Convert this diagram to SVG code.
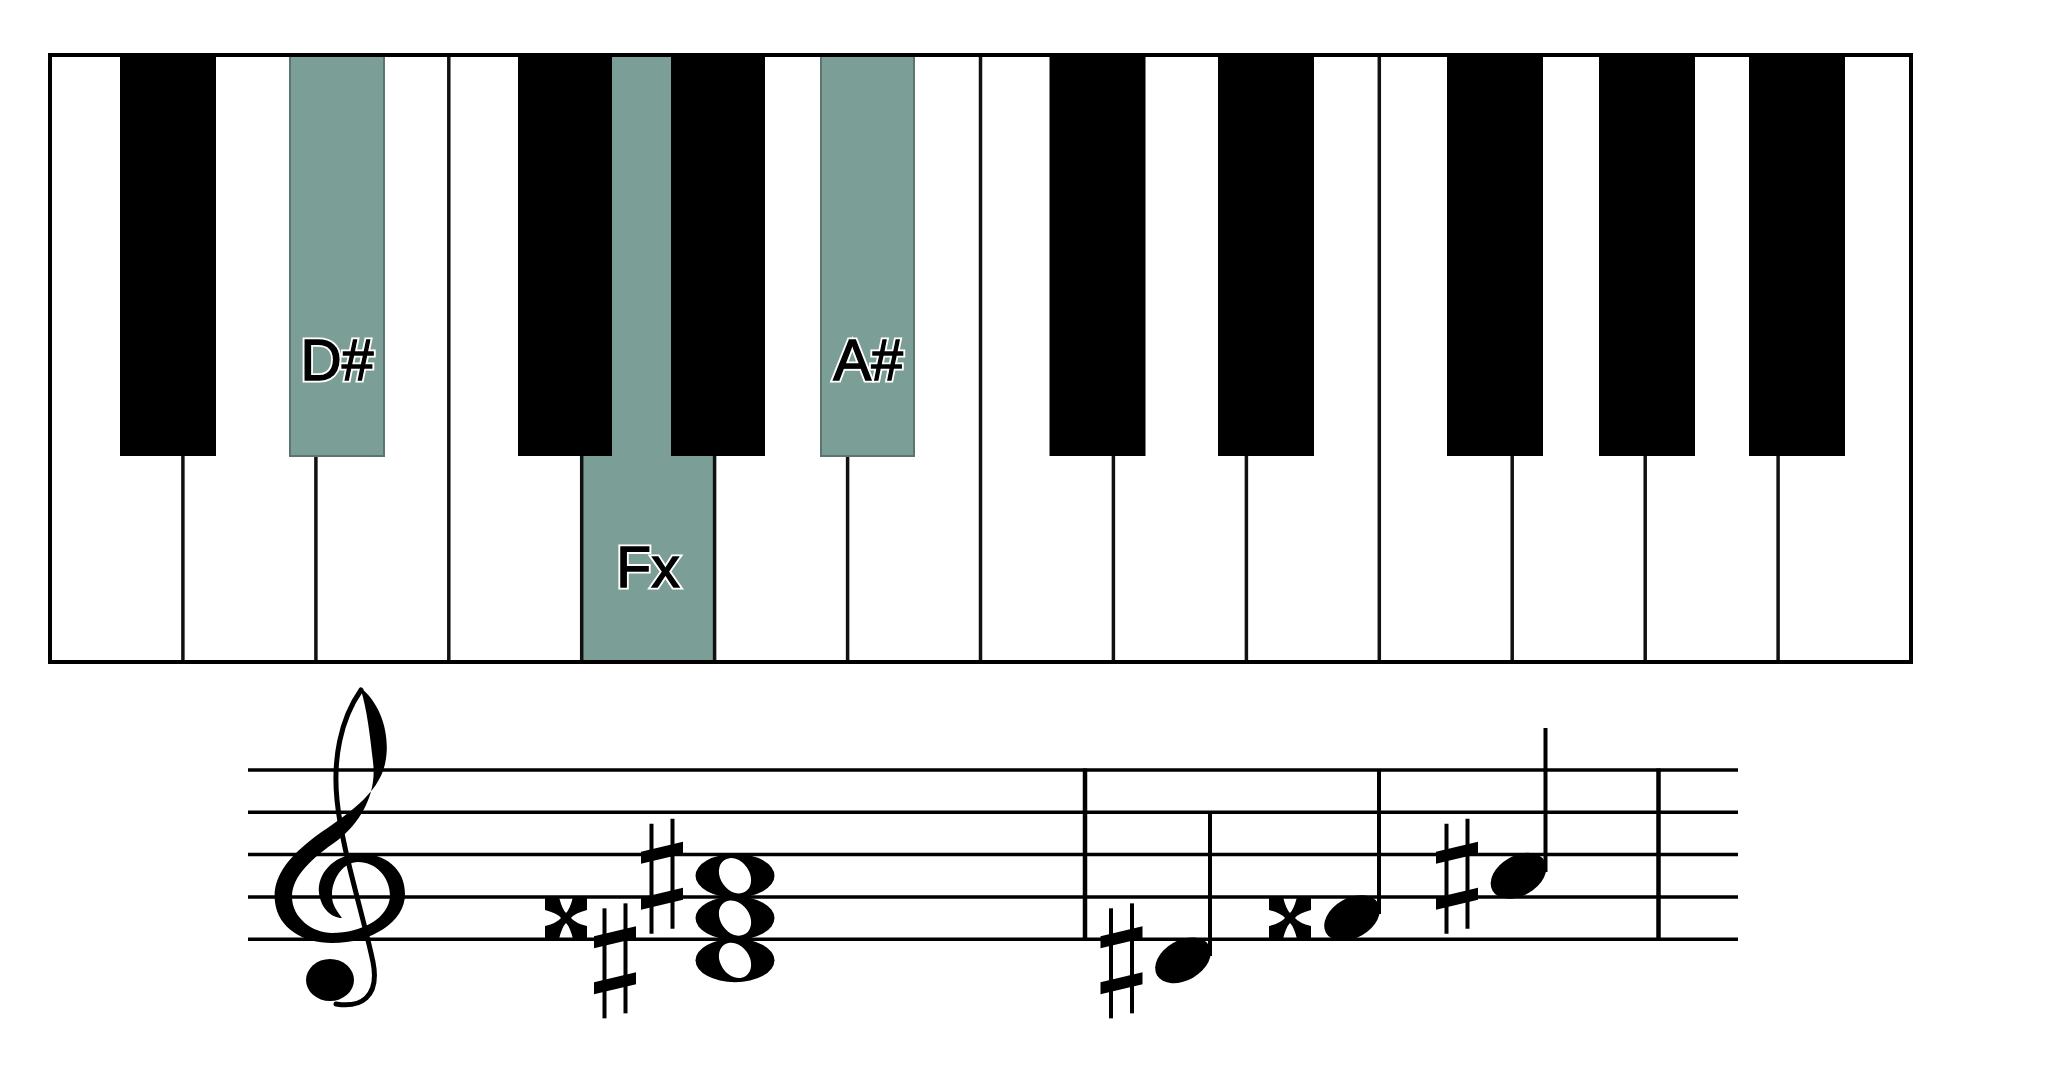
<svg xmlns="http://www.w3.org/2000/svg" width="2048" height="1079" viewBox="0 0 2048 1079">
<style>
.wk{fill:#ffffff;stroke:#000;stroke-width:4}
.div{stroke:#111;stroke-width:3.5}
.bk{fill:#000}
.tk{fill:#7b9e96;stroke:#5b756f;stroke-width:2}
.lbl{font-family:"Liberation Sans",Arial,sans-serif;font-size:57px;fill:#000;stroke:#fff;stroke-width:5;paint-order:stroke;text-anchor:middle}
.lbl2{font-family:"Liberation Sans",Arial,sans-serif;font-size:57px;fill:#000;stroke:#000;stroke-width:1.3;text-anchor:middle}
.staff{stroke:#000;stroke-width:3.5}
.bar{stroke:#000;stroke-width:4.5}
.stem{stroke:#000;stroke-width:4}
</style>
<defs>
<g id="sharp">
<rect x="-12.5" y="-52" width="4" height="110" fill="#000"/>
<rect x="8.5" y="-57" width="4" height="110" fill="#000"/>
<polygon points="-21,-12 21,-22 21,-34 -21,-24" fill="#000"/>
<polygon points="-21,34 21,24 21,12 -21,22" fill="#000"/>
</g>
<path id="dsharp" d="M -21 -21 L -7 -21 Q -4 -9 0 -5 Q 4 -9 7 -21 L 21 -21 L 21 -8 Q 9 -5 5 0 Q 9 5 21 8 L 21 21 L 7 21 Q 4 9 0 5 Q -4 9 -7 21 L -21 21 L -21 8 Q -9 5 -5 0 Q -9 -5 -21 -8 Z" fill="#000"/>
<ellipse id="qhead" cx="0" cy="0" rx="30" ry="20" transform="rotate(-30)" fill="#000"/>
<g id="whead">
<ellipse cx="0" cy="0" rx="39.5" ry="21.8" fill="#000"/>
<ellipse cx="0" cy="0" rx="14.5" ry="19" transform="rotate(-35)" fill="#fff"/>
</g>
</defs>

<g id="keyboard">
<rect class="wk" x="50" y="55" width="1861" height="607"/>
<rect id="key-Fx" x="581.7" y="57" width="132.9" height="603" fill="#7b9e96"/>
<g id="white-dividers">
<line class="div" x1="182.9" y1="57" x2="182.9" y2="660"/>
<line class="div" x1="315.9" y1="57" x2="315.9" y2="660"/>
<line class="div" x1="448.8" y1="57" x2="448.8" y2="660"/>
<line class="div" x1="581.7" y1="57" x2="581.7" y2="660"/>
<line class="div" x1="714.6" y1="57" x2="714.6" y2="660"/>
<line class="div" x1="847.6" y1="57" x2="847.6" y2="660"/>
<line class="div" x1="980.5" y1="57" x2="980.5" y2="660"/>
<line class="div" x1="1113.4" y1="57" x2="1113.4" y2="660"/>
<line class="div" x1="1246.4" y1="57" x2="1246.4" y2="660"/>
<line class="div" x1="1379.3" y1="57" x2="1379.3" y2="660"/>
<line class="div" x1="1512.2" y1="57" x2="1512.2" y2="660"/>
<line class="div" x1="1645.2" y1="57" x2="1645.2" y2="660"/>
<line class="div" x1="1778.1" y1="57" x2="1778.1" y2="660"/>
</g>
<g id="black-keys">
<rect class="bk" x="120" y="55" width="96" height="401"/>
<rect id="key-Ds" class="tk" x="290" y="55" width="94" height="401"/>
<rect class="bk" x="518" y="55" width="94" height="401"/>
<rect class="bk" x="671" y="55" width="94" height="401"/>
<rect id="key-As" class="tk" x="821" y="55" width="93" height="401"/>
<rect class="bk" x="1049.5" y="55" width="96" height="401"/>
<rect class="bk" x="1218" y="55" width="96" height="401"/>
<rect class="bk" x="1447" y="55" width="96" height="401"/>
<rect class="bk" x="1599" y="55" width="96" height="401"/>
<rect class="bk" x="1749" y="55" width="96" height="401"/>
</g>
<rect x="50" y="55" width="1861" height="607" fill="none" stroke="#000" stroke-width="4"/>
<g id="labels">
<text class="lbl" x="337" y="380">D#</text>
<text class="lbl" x="868" y="380">A#</text>
<text class="lbl" x="648" y="587">Fx</text>
<text class="lbl2" x="337" y="380">D#</text>
<text class="lbl2" x="868" y="380">A#</text>
<text class="lbl2" x="648" y="587">Fx</text>
</g>
</g>

<g id="staff">
<line class="staff" x1="248" y1="770" x2="1738" y2="770"/>
<line class="staff" x1="248" y1="812.3" x2="1738" y2="812.3"/>
<line class="staff" x1="248" y1="854.6" x2="1738" y2="854.6"/>
<line class="staff" x1="248" y1="896.9" x2="1738" y2="896.9"/>
<line class="staff" x1="248" y1="939.2" x2="1738" y2="939.2"/>
<line class="bar" x1="1085" y1="768.5" x2="1085" y2="940.7"/>
<line class="bar" x1="1658.5" y1="768.5" x2="1658.5" y2="940.7"/>
</g>

<g id="treble-clef">
<path d="M 361 690 C 340 720, 333 760, 337 800 C 342 850, 362 910, 373 962 C 380 998, 360 1008, 336 1004" fill="none" stroke="#000" stroke-width="5" stroke-linecap="round"/>
<path d="M 361 688 C 382 705, 391 737, 385 764 C 378 795, 346 815, 316 836 C 287 858, 272 878, 275 902 C 278 928, 303 943, 332 943 L 332 933 C 313 933, 292 918, 292 897 C 292 876, 312 858, 338 840 C 362 821, 377 792, 373 762 C 370 735, 367 710, 361 690 Z" fill="#000"/>
<path d="M 332 943 C 372 943, 405 922, 405 894 C 405 866, 381 852, 356 854 C 333 856, 317 874, 319 893 C 321 909, 332 918, 342 918 C 338 912, 331 905, 332 893 C 333 877, 344 862, 358 862 C 376 862, 390 877, 390 896 C 389 918, 362 933, 332 933 Z" fill="#000"/>
<ellipse cx="330" cy="980" rx="24" ry="21" fill="#000"/>
</g>

<g id="chord">
<use href="#whead" x="735" y="875.75"/>
<use href="#whead" x="735" y="918.05"/>
<use href="#whead" x="735" y="960.35"/>
<use href="#dsharp" x="566" y="918"/>
<use href="#sharp" x="615" y="960.35"/>
<use href="#sharp" x="662" y="875.75"/>
</g>

<g id="note-Ds">
<use href="#sharp" x="1121.5" y="960.35"/>
<use href="#qhead" x="1183" y="960.35"/>
<line class="stem" x1="1210" y1="956" x2="1210" y2="812.3"/>
</g>
<g id="note-Fx">
<use href="#dsharp" x="1290" y="918"/>
<use href="#qhead" x="1352" y="918.05"/>
<line class="stem" x1="1379" y1="914" x2="1379" y2="770"/>
</g>
<g id="note-As">
<use href="#sharp" x="1457" y="875.75"/>
<use href="#qhead" x="1518.5" y="875.75"/>
<line class="stem" x1="1545.5" y1="872" x2="1545.5" y2="728"/>
</g>
</svg>
